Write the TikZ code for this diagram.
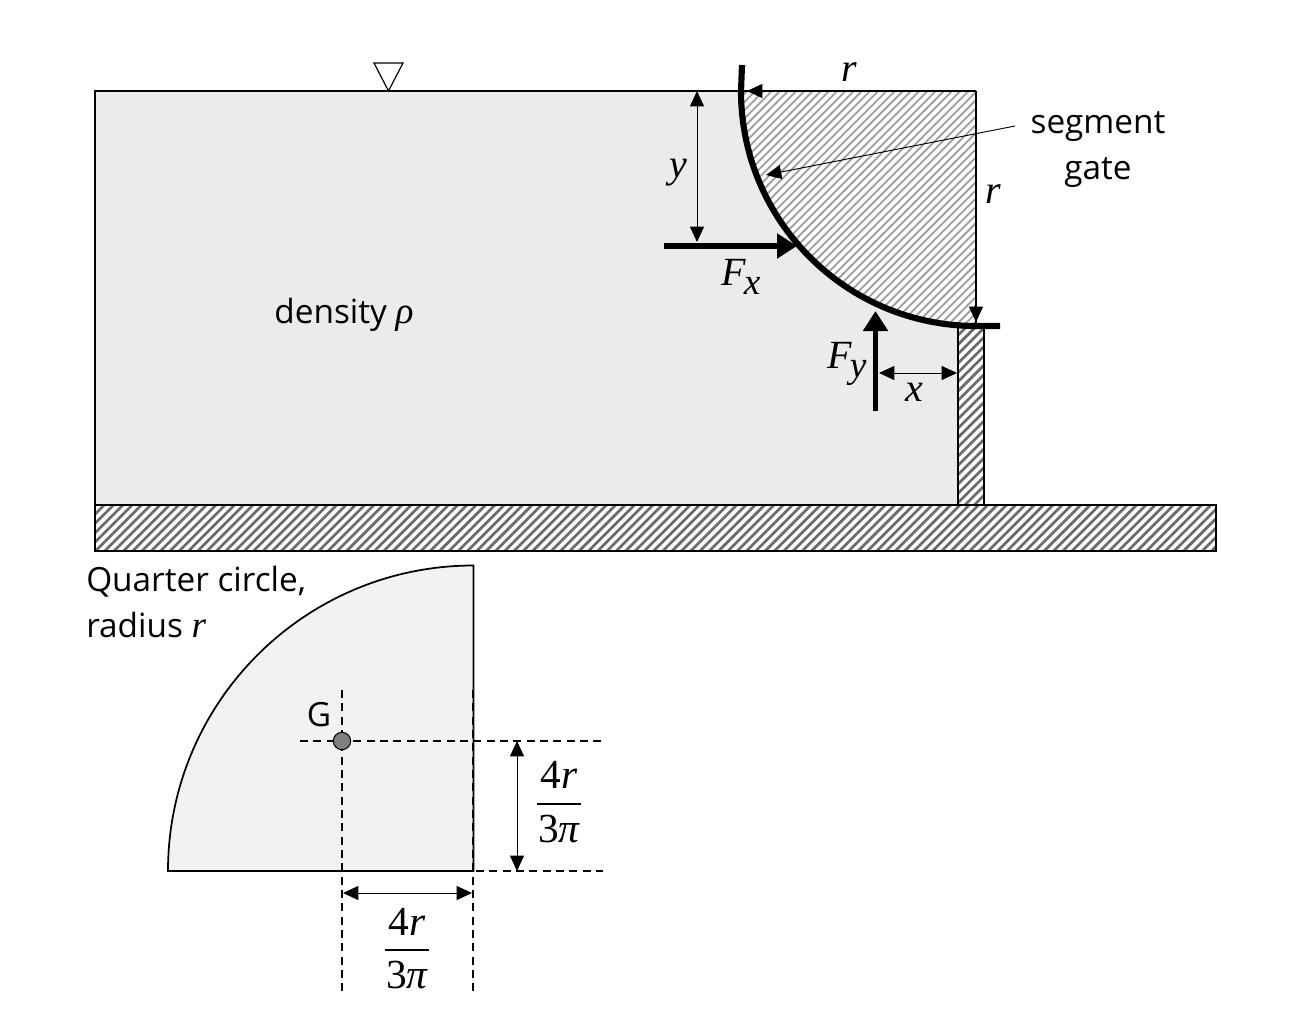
\documentclass[tikz,border=0pt]{standalone}
\usepackage{fontspec}
\setmainfont{Open Sans}
\newfontfamily\mathlike{Liberation Serif}
\usetikzlibrary{arrows.meta}
\newcommand{\vv}[1]{{\mathlike\itshape\fontsize{28}{30}\selectfont #1}}
\newcommand{\fracpart}[2]{{\fontsize{31}{34}\selectfont\mathlike #1\itshape #2}}
\newcommand{\subbed}[2]{#1\kern-1.5pt\raisebox{-6.5pt}{\fontsize{28}{30}\selectfont #2}}
\tikzset{
  x=0.75pt,y=-0.75pt,
  outline/.style={draw=black,line width=0.9pt},
  thin dim/.style={draw=black,line width=0.7pt,{Triangle[length=11.5pt,width=10.5pt]}-{Triangle[length=11.5pt,width=10.5pt]}},
  one dim/.style={draw=black,line width=0.7pt,-{Triangle[length=11.5pt,width=10.5pt]}},
  force/.style={draw=black,line width=3.9pt,-{Triangle[length=15pt,width=18pt]}},
  gatearc/.style={draw=black,line width=4.6pt},
  dashline/.style={draw=black,line width=1.2pt,dash pattern=on 6pt off 4pt},
  lbl/.style={inner sep=0pt,font=\fontsize{25}{34.5}\selectfont},
  mlbl/.style={inner sep=0pt,font=\fontsize{30}{32}\selectfont\mathlike\itshape},
}
\begin{document}
\begin{tikzpicture}
\useasboundingbox (0,0) rectangle (1309,1021);
\fill[white] (0,0) rectangle (1309,1021);
% water
\fill[fill=black!8] (95,91) rectangle (976,505);
% gate hatched zone
\begin{scope}
  \clip (976,326) arc[start angle=90,end angle=180,radius=235] -- (976,91) -- cycle;
  \fill[white] (741,91) rectangle (976,326);
  \foreach \i in {0,...,60}{
    \draw[black!38,line width=1.35pt] ({741+\i*8.2},89) -- ++(-260,260);
  }
\end{scope}
\draw[outline] (976,91) -- (976,326);
% wall
\begin{scope}
  \clip (958,326) rectangle (984,505);
  \fill[white] (958,326) rectangle (984,505);
  \foreach \i in {0,...,30}{
    \draw[black!58,line width=2pt] ({958+\i*9.3},326) -- ++(-200,200);
  }
\end{scope}
% ground
\begin{scope}
  \clip (95,505) rectangle (1216,551);
  \fill[white] (95,505) rectangle (1216,551);
  \foreach \i in {0,...,130}{
    \draw[black!58,line width=2pt] ({95+\i*9.3},505) -- ++(-60,60);
  }
\end{scope}
\draw[outline] (958,326) -- (958,505);
\draw[outline] (984,326) -- (984,505);
\draw[outline] (95,505) rectangle (1216,551);
\draw[outline] (976,91) -- (95,91) -- (95,505);
% surface triangle
\draw[outline,fill=white,line join=miter] (374,63) -- (403,63) -- (388.5,91) -- cycle;
% coordinates
\coordinate (tl) at (976,91);
\coordinate (rt) at (747,91);
\coordinate (rb) at (976,322);
\coordinate (y1) at (697,91);
\coordinate (y2) at (697,242);
\coordinate (fx1) at (664,246);
\coordinate (fx2) at (797,246);
\coordinate (fy1) at (875.5,411);
\coordinate (fy2) at (875.5,311);
\coordinate (x1) at (879,373);
\coordinate (x2) at (957,373);
\coordinate (lead1) at (1015,126);
\coordinate (lead2) at (766,175);
% dimensions
\draw[one dim] (tl) -- (rt);
\draw[one dim] (tl) -- (rb);
\draw[thin dim] (y1) -- (y2);
\draw[thin dim] (x1) -- (x2);
\draw[one dim] (lead1) -- (lead2);
% gate
\draw[gatearc] (742,65) -- (741,91) arc[start angle=180,end angle=90,radius=235] -- (1000,326);
% forces
\draw[force] (fx1) -- (fx2);
\draw[force] (fy1) -- (fy2);
% labels
\node[mlbl] (lr1) at (849,72) {r};
\node[mlbl] (lr2) at (993,194) {r};
\node[mlbl] (ly) at (678,173) {y};
\node[mlbl] (lfx) at (741,277) {\subbed{F}{x}};
\node[mlbl] (lfy) at (847,364) {\subbed{F}{y}};
\node[mlbl] (lx) at (914,392) {x};
\node[lbl,align=center] (lseg) at (1098,149.5) {segment\\gate};
\node[lbl] (ldens) at (344,315) {density \vv{ρ}};
% quarter circle
\draw[draw=black,line width=1.3pt,fill=black!5] (168,871) arc[start angle=180,end angle=270,radius=305.5] -- (473.5,871) -- cycle;
\node[lbl,align=left,anchor=west] (lq) at (86,601.5) {Quarter circle,\\radius \vv{r}};
\draw[dashline] (342,690) -- (342,992);
\draw[dashline] (473,690) -- (473,992);
\draw[dashline] (300,741) -- (603,741);
\draw[dashline] (476,871) -- (603,871);
\node[circle,draw=black,line width=0.8pt,fill=black!50,minimum size=13pt,inner sep=0pt] (g) at (342,741) {};
\node[lbl] (lg) at (319,715) {G};
\coordinate (v1) at (517,741);
\coordinate (v2) at (517,871);
\coordinate (h1) at (343,893);
\coordinate (h2) at (472,893);
\draw[thin dim] (v1) -- (v2);
\draw[thin dim] (h1) -- (h2);
% fractions
\node[inner sep=0pt] (n1) at (559,775) {\fracpart{4}{r}};
\node[inner sep=0pt] (d1) at (559,829) {\fracpart{3}{π}};
\coordinate (b1a) at (537,804); \coordinate (b1b) at (581,804);
\draw[black,line width=1.3pt] (b1a) -- (b1b);
\node[inner sep=0pt] (n2) at (407,922) {\fracpart{4}{r}};
\node[inner sep=0pt] (d2) at (407,975) {\fracpart{3}{π}};
\coordinate (b2a) at (385,950); \coordinate (b2b) at (429,950);
\draw[black,line width=1.3pt] (b2a) -- (b2b);
\end{tikzpicture}
\end{document}
